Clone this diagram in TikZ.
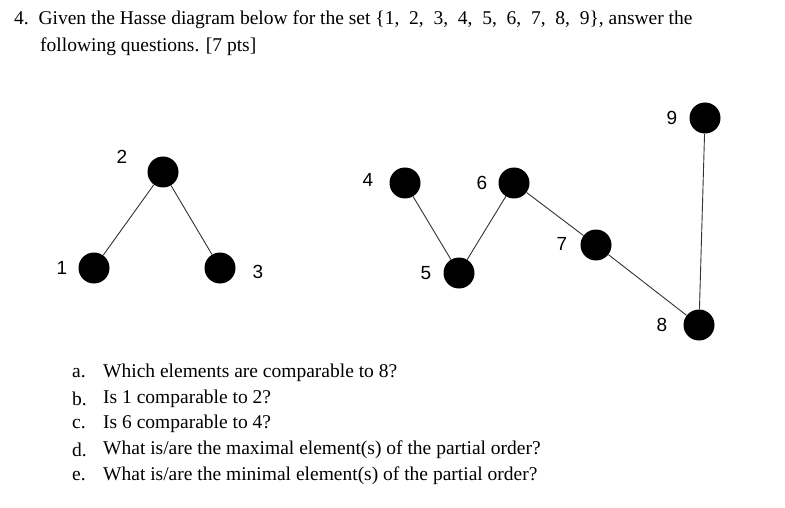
\documentclass[tikz,border=0pt]{standalone}
\usepackage{fontspec}
\setmainfont{Liberation Serif}
\newfontfamily\lab{Liberation Sans}
\begin{document}
\begin{tikzpicture}[x=1pt,y=-1pt,
  dot/.style={circle,fill=black,minimum size=31pt,inner sep=0pt},
  lbl/.style={font=\lab\fontsize{19}{21}\selectfont},
  txt/.style={anchor=west,inner sep=0pt,font=\fontsize{19.5}{22}\selectfont},
  edge/.style={draw=black!80,line width=0.9pt}]
\useasboundingbox[fill=white] (0,0) rectangle (785,508);
\node[txt] (t1) at (14,20) {4.\ \ Given the Hasse diagram below for the set \{1,\ \ 2,\ \ 3,\ \ 4,\ \ 5,\ \ 6,\ \ 7,\ \ 8,\ \ 9\}, answer the};
\node[txt] (t2) at (40,47) {following questions. [7 pts]};
\node[dot] (n1) at (94,268) {};
\node[dot] (n2) at (163,172) {};
\node[dot] (n3) at (220,268) {};
\node[dot] (n4) at (405,183) {};
\node[dot] (n5) at (459,273) {};
\node[dot] (n6) at (514,183) {};
\node[dot] (n7) at (596,245) {};
\node[dot] (n8) at (699,325) {};
\node[dot] (n9) at (705,118) {};
\node[lbl] (l1) at (62,268) {1};
\node[lbl] (l2) at (122,157) {2};
\node[lbl] (l3) at (258,272) {3};
\node[lbl] (l4) at (368,180) {4};
\node[lbl] (l5) at (426,273) {5};
\node[lbl] (l6) at (482,183) {6};
\node[lbl] (l7) at (562,244) {7};
\node[lbl] (l8) at (662,325) {8};
\node[lbl] (l9) at (672,118) {9};
\draw[edge] (n1) -- (n2) -- (n3);
\draw[edge] (n4) -- (n5) -- (n6) -- (n7) -- (n8) -- (n9);
\foreach \y/\l/\t [count=\i] in {373/a./Which elements are comparable to 8?,
  399/b./Is 1 comparable to 2?,
  424/c./Is 6 comparable to 4?,
  450/d./What is\slash are the maximal element(s) of the partial order?,
  476/e./What is\slash are the minimal element(s) of the partial order?}{
  \node[txt] (q\i) at (72,\y) {\l};
  \node[txt] (r\i) at (103,\y) {\t};
}
\end{tikzpicture}
\end{document}
